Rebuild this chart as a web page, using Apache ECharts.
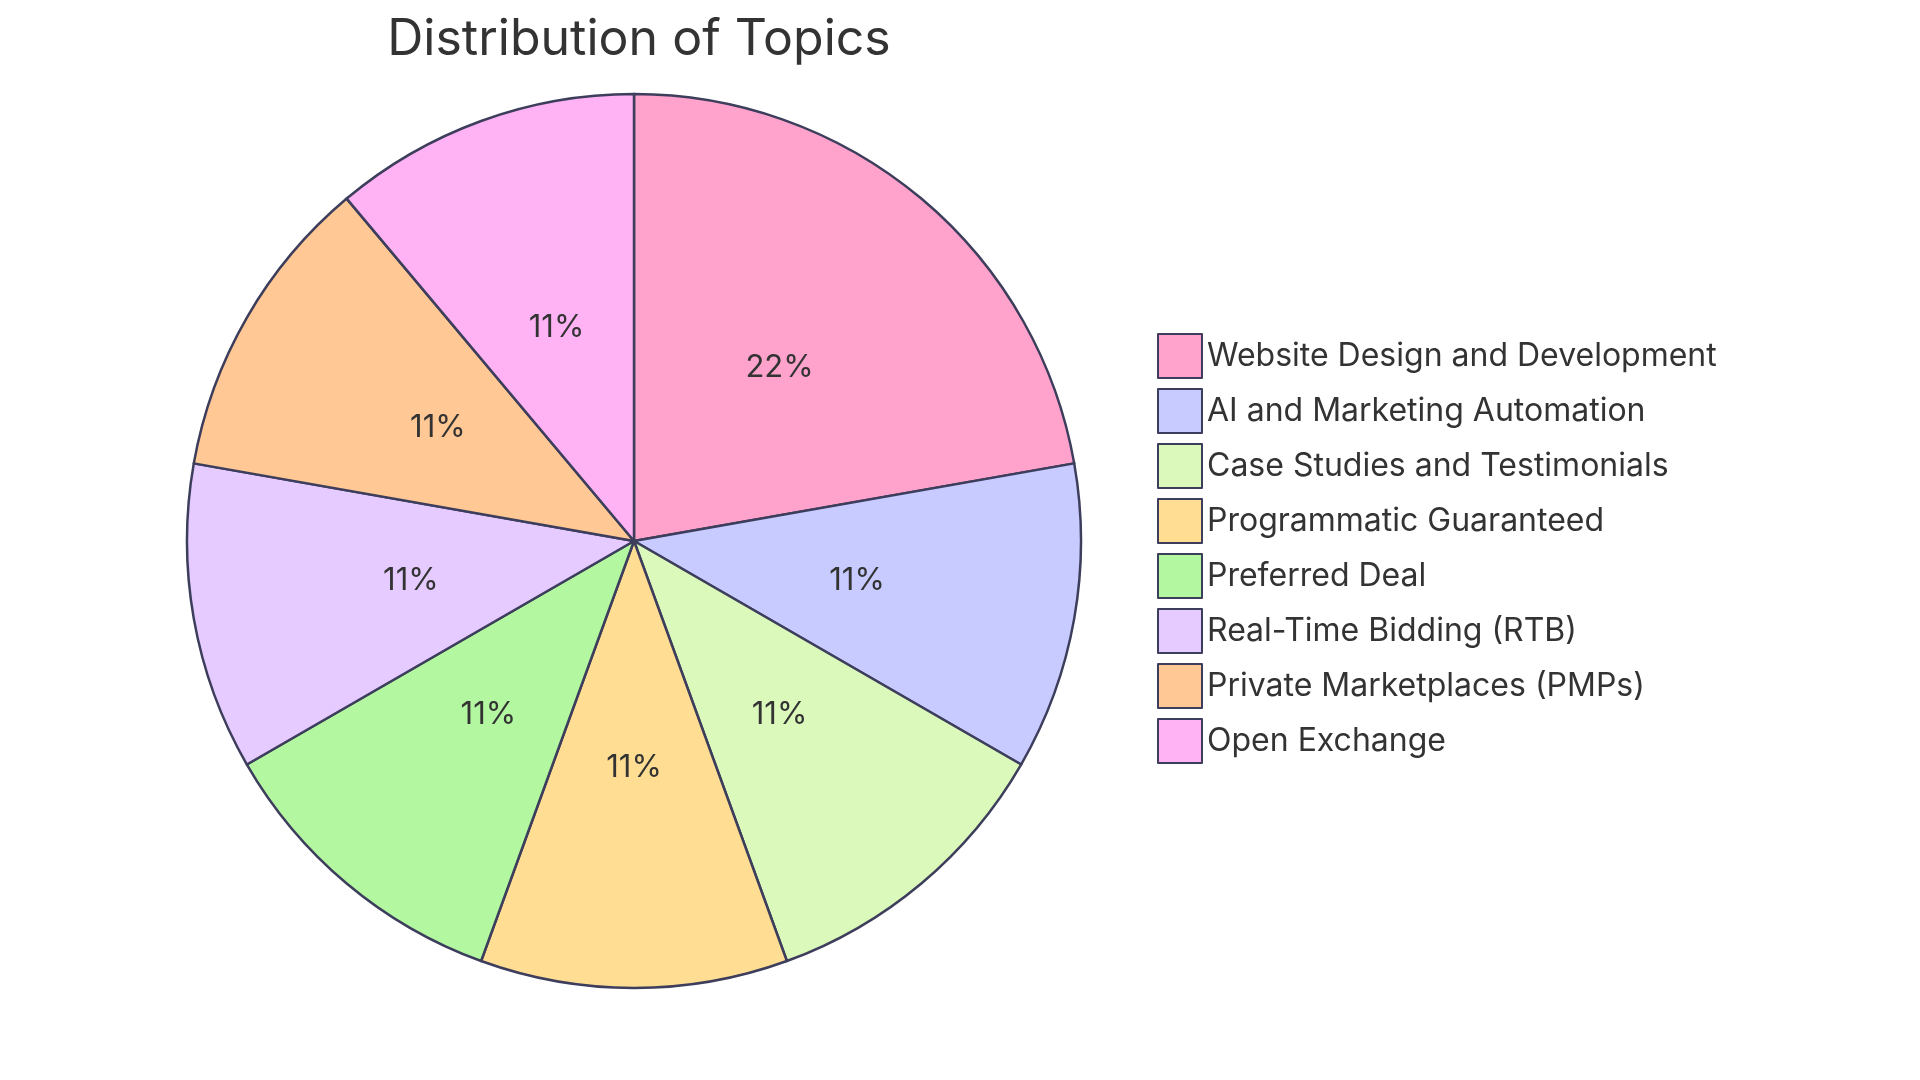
<!DOCTYPE html>
<html>
<head>
<meta charset="utf-8">
<script src="https://cdn.jsdelivr.net/npm/echarts@6/dist/echarts.min.js"></script>
<style>html,body{margin:0;background:#fff}#main{width:1920px;height:1080px}</style>
</head>
<body>
<div id="main"></div>
<script>
var categories = ['Website Design and Development', 'AI and Marketing Automation', 'Case Studies and Testimonials',
    'Programmatic Guaranteed', 'Preferred Deal', 'Real-Time Bidding (RTB)', 'Private Marketplaces (PMPs)', 'Open Exchange'];
var values = [2, 1, 1, 1, 1, 1, 1, 1];
var colors = ['#FFA3CC', '#C8CBFF', '#DAF9BA', '#FFDE94', '#B3F8A1', '#E5CBFF', '#FFC894', '#FFB3F5'];

var chart = echarts.init(document.getElementById('main'));
var pieData = [];
for (var i = 0; i < categories.length; i++) {
    pieData.push({ name: categories[i], value: values[i], itemStyle: { color: colors[i] } });
}
chart.setOption({
    textStyle: { fontFamily: 'Inter, "Open Sans", sans-serif', color: '#333' },
    title: {
        text: 'Distribution of Topics',
        left: 634, top: 10, textAlign: 'center',
        textStyle: { fontSize: 50, fontWeight: 'normal', color: '#333' }
    },
    legend: {
        orient: 'vertical',
        left: 1152, top: 328,
        itemWidth: 44, itemHeight: 44, itemGap: 9,
        icon: 'rect',
        textStyle: { fontSize: 32, color: '#333' },
        data: categories
    },
    series: [{
        type: 'pie',
        center: [634, 541],
        radius: [0, 447],
        startAngle: 90,
        clockwise: true,
        itemStyle: { borderColor: '#3d3d5c', borderWidth: 2.5 },
        label: {
            position: 'inside',
            formatter: function (p) { return Math.round(p.percent) + '%'; },
            fontSize: 31, color: '#333'
        },
        labelLine: { show: false },
        emphasis: { disabled: true },
        animation: false,
        data: pieData
    }]
});
</script>
</body>
</html>
